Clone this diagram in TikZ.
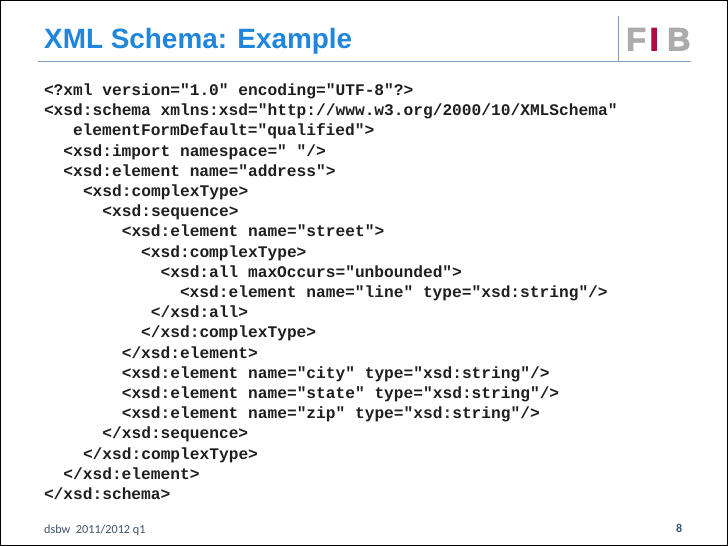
\documentclass[tikz,border=0pt]{standalone}
\usepackage{fontspec}
\setmainfont{Liberation Sans}
\setmonofont{Liberation Mono}
\newfontfamily\footfont{Carlito}
\newfontfamily\logofont[FakeBold=2.5]{Liberation Sans Bold}
\definecolor{titleblue}{HTML}{1F86DC}
\definecolor{rulecol}{HTML}{7F9BBB}
\definecolor{logogray}{HTML}{ABABAB}
\definecolor{logored}{HTML}{A80F3F}
\definecolor{footcol}{HTML}{3F5068}
\tikzset{
  x=1pt,y=-1pt,
  code/.style={anchor=base west,inner sep=0pt,outer sep=0pt,font=\ttfamily\bfseries\fontsize{16.2}{18}\selectfont,text=black!88},
  titletext/.style={anchor=base west,inner sep=0pt,font=\bfseries\fontsize{27.9}{32}\selectfont,text=titleblue},
  logoletter/.style={anchor=base west,inner sep=0pt,font=\logofont\fontsize{32.5}{36}\selectfont},
  foot/.style={anchor=base west,inner sep=0pt,font=\footfont\fontsize{12.2}{14}\selectfont,text=footcol},
  rulestyle/.style={draw=rulecol,line width=1pt}
}
\begin{document}
\begin{tikzpicture}
\useasboundingbox (0,0) rectangle (728,546);
\fill[white] (0,0) rectangle (728,546);
\draw[black,line width=2pt] (0,0) rectangle (728,546);
% rules
\coordinate (ruleL) at (38,61);
\coordinate (ruleR) at (691,61);
\coordinate (vtop) at (618,16);
\coordinate (vbot) at (618,61);
\draw[rulestyle] (ruleL) -- (ruleR);
\draw[rulestyle] (vtop) -- (vbot);
% logo
\node[logoletter,text=logogray] (logoF) at (626,50.5) {F};
\node[logoletter,text=logored] (logoI) at (649.5,50.5) {I};
\node[logoletter,text=logogray] (logoB) at (667,50.5) {B};
% title
\node[titletext] (title) at (44,48) {XML Schema: Example};
% code
\node[code] (l1)  at (44,95.5)  {\detokenize{<?xml version="1.0" encoding="UTF-8"?>}};
\node[code] (l2)  at (44,115.7) {\detokenize{<xsd:schema xmlns:xsd="http://www.w3.org/2000/10/XMLSchema"}};
\node[code] (l3)  at (73,135.9) {\detokenize{elementFormDefault="qualified">}};
\node[code] (l4)  at (63.4,156.1) {\detokenize{<xsd:import namespace=" "/>}};
\node[code] (l5)  at (63.4,176.3) {\detokenize{<xsd:element name="address">}};
\node[code] (l6)  at (83,196.5) {\detokenize{<xsd:complexType>}};
\node[code] (l7)  at (102.4,216.7) {\detokenize{<xsd:sequence>}};
\node[code] (l8)  at (121.8,236.9) {\detokenize{<xsd:element name="street">}};
\node[code] (l9)  at (141.2,257.1) {\detokenize{<xsd:complexType>}};
\node[code] (l10) at (160.6,277.3) {\detokenize{<xsd:all maxOccurs="unbounded">}};
\node[code] (l11) at (180,297.5) {\detokenize{<xsd:element name="line" type="xsd:string"/>}};
\node[code] (l12) at (150.9,317.7) {\detokenize{</xsd:all>}};
\node[code] (l13) at (141.2,337.9) {\detokenize{</xsd:complexType>}};
\node[code] (l14) at (121.8,358.1) {\detokenize{</xsd:element>}};
\node[code] (l15) at (121.8,378.3) {\detokenize{<xsd:element name="city" type="xsd:string"/>}};
\node[code] (l16) at (121.8,398.5) {\detokenize{<xsd:element name="state" type="xsd:string"/>}};
\node[code] (l17) at (121.8,418.7) {\detokenize{<xsd:element name="zip" type="xsd:string"/>}};
\node[code] (l18) at (102.4,438.9) {\detokenize{</xsd:sequence>}};
\node[code] (l19) at (83,459.1) {\detokenize{</xsd:complexType>}};
\node[code] (l20) at (63.4,479.3) {\detokenize{</xsd:element>}};
\node[code] (l21) at (44,499.5) {\detokenize{</xsd:schema>}};
% footer
\node[foot] (footL) at (44,533.5) {dsbw\ \ 2011/2012 q1};
\node[foot,font=\footfont\bfseries\fontsize{12}{14}\selectfont] (footR) at (676,532) {8};
\end{tikzpicture}
\end{document}
